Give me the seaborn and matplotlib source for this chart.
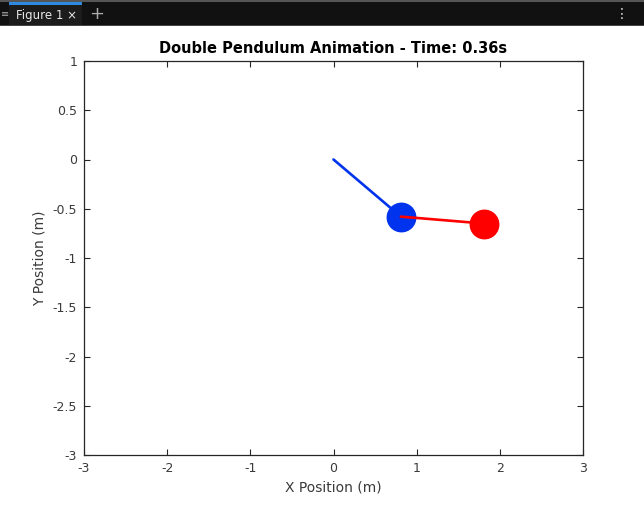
import matplotlib.pyplot as plt
import seaborn as sns
import pandas as pd
from matplotlib.patches import Rectangle

# pendulum state at t = 0.36 s
time_s = 0.36
pivot = (0.0, 0.0)
bob1 = (0.81, -0.58)
bob2 = (1.81, -0.65)

x_ticks = [-3, -2, -1, 0, 1, 2, 3]
y_ticks = [-3, -2.5, -2, -1.5, -1, -0.5, 0, 0.5, 1]

sns.set_theme(style="white")
plt.rcParams['font.family'] = ['DejaVu Sans']

fig = plt.figure(figsize=(6.44, 5.08), dpi=100)
ax = fig.add_axes([84 / 644, 53 / 508, 499 / 644, 394 / 508])

rod1 = pd.DataFrame({"x": [pivot[0], bob1[0]], "y": [pivot[1], bob1[1]]})
rod2 = pd.DataFrame({"x": [bob1[0], bob2[0]], "y": [bob1[1], bob2[1]]})

sns.lineplot(data=rod1, x="x", y="y", color="#0033ee", linewidth=1.9, ax=ax, sort=False)
ax.plot(bob1[0], bob1[1], "o", color="#0033ee", markersize=20.5)
sns.lineplot(data=rod2, x="x", y="y", color="#ff0000", linewidth=1.9, ax=ax, sort=False)
ax.plot(bob2[0], bob2[1], "o", color="#ff0000", markersize=20.5)

ax.set_xlim(-3, 3)
ax.set_ylim(-3, 1)
ax.set_xticks(x_ticks)
ax.set_yticks(y_ticks)
ax.set_xticklabels([f"{v:g}" for v in x_ticks])
ax.set_yticklabels([f"{v:g}" for v in y_ticks])
ax.tick_params(direction="in", length=4, width=0.8, colors="#262626",
               labelsize=9, top=True, right=True, bottom=True, left=True, pad=5)
ax.tick_params(axis="both", labelcolor="#3a3a3a")
for s in ax.spines.values():
    s.set_visible(True)
    s.set_color("#262626")
    s.set_linewidth(0.9)

ax.set_xlabel("X Position (m)", fontsize=10, color="#3a3a3a", labelpad=4)
ax.set_ylabel("Y Position (m)", fontsize=10, color="#3a3a3a", labelpad=4)
ax.set_title(f"Double Pendulum Animation - Time: {time_s:.2f}s",
             fontsize=10.5, fontweight="bold", color="#000000", pad=6)

# window tab bar
H = 508
fig.patches.append(Rectangle((0, 1 - 25 / H), 1, 25 / H, transform=fig.transFigure,
                             facecolor="#111111", edgecolor="none", zorder=0))
fig.patches.append(Rectangle((0, 1 - 2 / H), 1, 2 / H, transform=fig.transFigure,
                             facecolor="#555555", edgecolor="none", zorder=1))
fig.patches.append(Rectangle((0, 1 - 26 / H), 1, 1.5 / H, transform=fig.transFigure,
                             facecolor="#444444", edgecolor="none", zorder=1))
fig.patches.append(Rectangle((9 / 644, 1 - 25 / H), 73 / 644, 23 / H, transform=fig.transFigure,
                             facecolor="#1c1c1c", edgecolor="none", zorder=1))
fig.patches.append(Rectangle((9 / 644, 1 - 5 / H), 73 / 644, 3 / H, transform=fig.transFigure,
                             facecolor="#2d8ae0", edgecolor="none", zorder=2))
fig.text(16 / 644, 1 - 15 / H, "Figure 1 \u00d7", color="#e8e8e8", fontsize=8.5,
         va="center", ha="left", family="DejaVu Sans")
fig.text(97 / 644, 1 - 14 / H, "+", color="#aaaaaa", fontsize=13,
         va="center", ha="center")
fig.text(5 / 644, 1 - 14 / H, "\u2261", color="#aaaaaa", fontsize=7,
         va="center", ha="center")
fig.text(622 / 644, 1 - 14 / H, "\u22ee", color="#dddddd", fontsize=10,
         va="center", ha="center")

fig.savefig("out.png", dpi=100, facecolor="white")
